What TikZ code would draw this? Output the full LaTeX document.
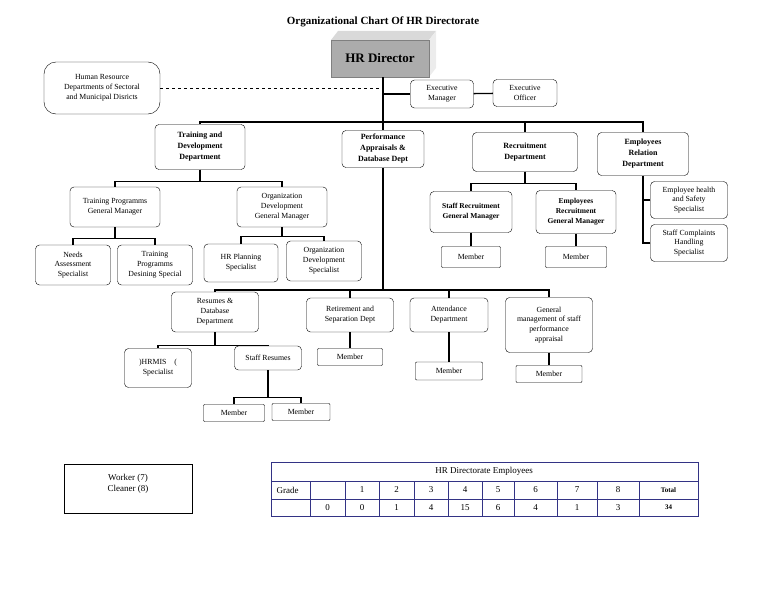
\documentclass[tikz,border=0pt]{standalone}
\usepackage{fontspec}
\setmainfont{Liberation Serif}
\usetikzlibrary{positioning}

\tikzset{
    box/.style={draw, rounded corners=4pt, thin, align=center, inner sep=1pt,
        font=\fontsize{7.8}{9.8}\selectfont},
    bbox/.style={box, font=\fontsize{8}{11}\selectfont\bfseries},
    mem/.style={draw, thin, rounded corners=1pt, align=center, inner sep=1pt,
        font=\fontsize{7.8}{9.8}\selectfont},
    link/.style={line width=1.3pt},
}

\begin{document}
\begin{tikzpicture}[x=1pt,y=-1pt]

    \useasboundingbox (0,0) rectangle (768,594);

    % Title
    \node[font=\fontsize{11}{13}\selectfont\bfseries] (title) at (383,22) {Organizational Chart Of HR Directorate};

    % HR Director (3D block)
    \fill[gray!30] (331,40) -- (338,31) -- (436,31) -- (429,40) -- cycle;
    \fill[gray!15] (429,40) -- (436,31) -- (436,68) -- (429,77) -- cycle;
    \node[draw=gray, fill=gray!65, minimum width=98, minimum height=37, inner sep=0pt,
        font=\fontsize{13}{15}\selectfont\bfseries] (dir) at (380,58.5) {HR Director};

    \node[box, rounded corners=12pt, minimum width=116, minimum height=52] (hrd) at (102,88)
        {Human Resource\\Departments of Sectoral\\and Municipal Disricts};
    \node[box, minimum width=63, minimum height=28] (exm) at (442,94) {Executive\\Manager};
    \node[box, minimum width=64, minimum height=27] (exo) at (525,93) {Executive\\Officer};

    % First level
    \node[bbox, minimum width=90, minimum height=45] (tdd) at (200,147) {Training and\\Development\\Department};
    \node[bbox, minimum width=82, minimum height=37] (pad) at (383,149) {Performance\\Appraisals \&\\Database Dept};
    \node[bbox, minimum width=105, minimum height=39] (red) at (525,152) {Recruitment\\Department};
    \node[bbox, minimum width=91, minimum height=43] (erd) at (643,154) {Employees\\Relation\\Department};

    % Training subtree
    \node[box, minimum width=90, minimum height=40] (tpg) at (115,207) {Training Programms\\General Manager};
    \node[box, minimum width=90, minimum height=40] (odg) at (282,207) {Organization\\Development\\General Manager};
    \node[box, minimum width=75, minimum height=40] (nas) at (73,265) {Needs\\Assessment\\Specialist};
    \node[box, minimum width=75, minimum height=40] (tpd) at (155,265) {Training\\Programms\\Desining Special};
    \node[box, minimum width=74, minimum height=38] (hrp) at (241,263) {HR Planning\\Specialist};
    \node[box, minimum width=75, minimum height=40] (ods) at (324,261) {Organization\\Development\\Specialist};

    % Recruitment subtree
    \node[bbox, font=\fontsize{7.5}{10}\selectfont\bfseries, minimum width=82, minimum height=41] (srg) at (471,212) {Staff Recruitment\\General Manager};
    \node[bbox, font=\fontsize{7.5}{10}\selectfont\bfseries, minimum width=80, minimum height=43] (erg) at (576,212) {Employees\\Recruitment\\General Manager};
    \node[mem, minimum width=59, minimum height=21] (m1) at (471,257) {Member};
    \node[mem, minimum width=61, minimum height=21] (m2) at (576,257) {Member};

    % Employees relation subtree
    \node[box, minimum width=77, minimum height=37] (ehs) at (689,200) {Employee health\\and Safety\\Specialist};
    \node[box, minimum width=77, minimum height=37] (sch) at (689,243) {Staff Complaints\\Handling\\Specialist};

    % Performance subtree
    \node[box, minimum width=87, minimum height=40] (rdd) at (215,312) {Resumes \&\\Database\\Department};
    \node[box, minimum width=87, minimum height=34] (rsd) at (350,315) {Retirement and\\Separation Dept};
    \node[box, minimum width=78, minimum height=34] (att) at (449,315) {Attendance\\Department};
    \node[box, minimum width=87, minimum height=55] (gms) at (549,325) {General\\management of staff\\performance\\appraisal};
    \node[box, minimum width=67, minimum height=39] (hms) at (158,368) {)HRMIS\quad(\\Specialist};
    \node[box, minimum width=67, minimum height=24] (sres) at (268,358) {Staff Resumes};
    \node[mem, minimum width=61, minimum height=17] (m3) at (234,413) {Member};
    \node[mem, minimum width=58, minimum height=17] (m4) at (301,412) {Member};
    \node[mem, minimum width=65, minimum height=17] (m5) at (350,357) {Member};
    \node[mem, minimum width=67, minimum height=18] (m6) at (449,371) {Member};
    \node[mem, minimum width=66, minimum height=17] (m7) at (549,374) {Member};

    % Connectors
    \coordinate (sp1) at (383,122);
    \coordinate (sp2) at (383,290);
    \draw[dashed] (hrd.east) -- (383,88);
    \draw[link] (383,77) -- (sp1);
    \draw[link] (383,94) -- (exm.west);
    \draw[link] (exm) -- (exo);
    \draw[link] (tdd.north) |- (sp1) -| (erd.north);
    \draw[link] (sp1) -| (red.north);
    \draw[link] (sp1) -- (pad.north);
    \draw[link] (pad.south) -- (sp2);

    \draw[link] (tdd.south) -- ++(0,12) -| (tpg.north);
    \draw[link] (tdd.south) -- ++(0,12) -| (odg.north);
    \draw[link] (tpg.south) -- ++(0,11) -| (nas.north);
    \draw[link] (tpg.south) -- ++(0,11) -| (tpd.north);
    \draw[link] (odg.south) -- ++(0,9) -| (hrp.north);
    \draw[link] (odg.south) -- ++(0,9) -| (ods.north);

    \draw[link] (red.south) -- ++(0,12) -| (srg.north);
    \draw[link] (red.south) -- ++(0,12) -| (erg.north);
    \draw[link] (srg) -- (m1);
    \draw[link] (erg) -- (m2);

    \draw[link] (erd.south) -- ++(0,64);
    \draw[link] (ehs.west) -| (erd.south);
    \draw[link] (sch.west) -| (erd.south);

    \draw[link] (sp2) -| (rdd.north);
    \draw[link] (sp2) -| (rsd.north);
    \draw[link] (sp2) -| (att.north);
    \draw[link] (sp2) -| (gms.north);
    \draw[link] (rdd.south) -- ++(0,13) -| (hms.north);
    \draw[link] (rdd.south) -- ++(0,13) -| (sres.north);
    \draw[link] (sres.south) -- ++(0,27) -| (m3.north);
    \draw[link] (sres.south) -- ++(0,27) -| (m4.north);
    \draw[link] (rsd) -- (m5);
    \draw[link] (att) -- (m6);
    \draw[link] (gms) -- (m7);

    % Worker box
    \node[draw, thin, minimum width=128, minimum height=49, inner sep=0pt] (wk) at (128,488.5) {};
    \node[font=\fontsize{9}{11}\selectfont, align=center] at (128,484) {Worker (7)\\Cleaner (8)};

    % Employees table
    \draw[draw=blue!40!black!80, thin] (271,462) rectangle (698,516);
    \draw[blue!40!black!80, thin] (271,481) -- (698,481) (271,499) -- (698,499);
    \foreach \x in {310,345,379,414,448,482,514,557,597,639}
        \draw[blue!40!black!80, thin] (\x,481) -- (\x,516);
    \node[font=\fontsize{9}{11}\selectfont] (tab) at (484,471) {HR Directorate Employees};
    \node[font=\fontsize{9}{11}\selectfont, anchor=west] at (273,490) {Grade};
    \foreach \v/\x in {1/362,2/396.5,3/431,4/465,5/498,6/535.5,7/577,8/618}
        \node[font=\fontsize{9}{11}\selectfont] at (\x,490) {\v};
    \node[font=\fontsize{7}{9}\selectfont\bfseries] at (668.5,490) {Total};
    \foreach \v/\x in {0/327.5,0/362,1/396.5,4/431,15/465,6/498,4/535.5,1/577,3/618}
        \node[font=\fontsize{9}{11}\selectfont] at (\x,507.5) {\v};
    \node[font=\fontsize{7}{9}\selectfont\bfseries] at (668.5,507.5) {34};

\end{tikzpicture}
\end{document}
